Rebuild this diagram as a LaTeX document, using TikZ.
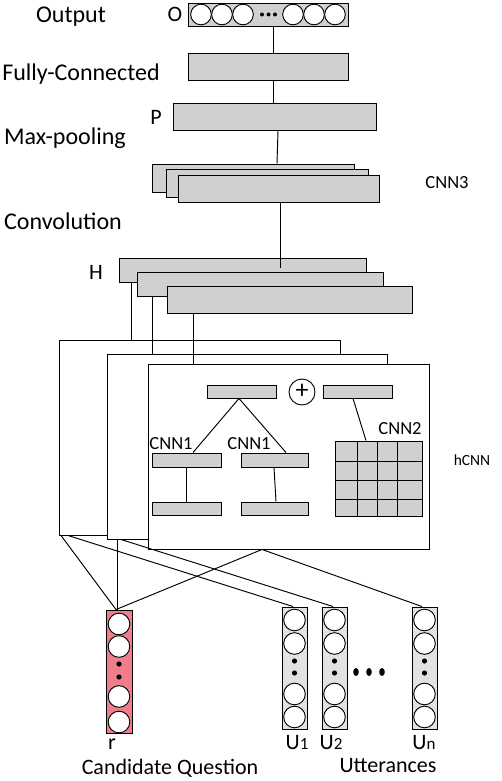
\documentclass[tikz,border=0pt]{standalone}
\usepackage{fontspec}
\setmainfont{Carlito}
\definecolor{barfill}{RGB}{208,208,208}
\definecolor{ufill}{RGB}{226,226,226}
\definecolor{rfill}{RGB}{240,125,140}
\begin{document}
\begin{tikzpicture}[x=1pt,y=-1pt,line width=0.95pt,
  box/.style n args={2}{draw, fill=barfill, inner sep=0pt, minimum width=#1pt, minimum height=#2pt},
  frame/.style n args={2}{draw, fill=white, inner sep=0pt, minimum width=#1pt, minimum height=#2pt},
  big/.style={font=\fontsize{24}{24}\selectfont, inner sep=0pt},
  mid/.style={font=\fontsize{22}{22}\selectfont, inner sep=0pt},
  small/.style={font=\fontsize{18.5}{18.5}\selectfont, inner sep=0pt},
  neuron/.style={draw, fill=white},
  vdot/.style={fill=black}]
\useasboundingbox (0,0) rectangle (502,781);

% ---------- left labels ----------
\node[big] (tOut) at (71,17) {Output};
\node[big] (tFC) at (81,74) {Fully-Connected};
\node[big] (tMP) at (65,138) {Max-pooling};
\node[big] (tConv) at (63,221) {Convolution};

% ---------- output layer ----------
\node[box={160}{23}] (out) at (268,14.5) {};
\foreach \cx in {201,222,243,293,314,335}
  \draw[neuron] (\cx,14.5) circle[radius=10.3pt];
\foreach \cx in {262,268.5,275}
  \fill (\cx,14.5) circle[radius=2pt];
\node[mid] (tO) at (175,14) {O};

% ---------- fully connected / pooling ----------
\node[box={160}{27}] (fc) at (268,66.5) {};
\node[box={203}{27}] (pool) at (274.5,116.5) {};
\node[mid] (tP) at (156,117) {P};

% ---------- CNN3 stack ----------
\node[box={202}{28}] (cv1) at (253,178) {};
\node[box={202}{28}] (cv2) at (267,183) {};
\node[box={201}{27}] (cv3) at (278.5,188.5) {};
\node[small] (tCNN3) at (447,183) {CNN3};

% ---------- H stack ----------
\node[box={247}{24}] (h1) at (242.5,270) {};
\node[box={246}{24}] (h2) at (260,284) {};
\node[box={245}{27}] (h3) at (289.5,299.5) {};
\node[mid] (tH) at (96,272) {H};
\coordinate (hin) at (280,268);

% ---------- vertical connectors top ----------
\draw (out.south -| 273,0) -- (fc.north -| 273,0);
\draw (fc.south -| 273,0) -- (pool.north -| 273,0);
\draw (pool.south -| 278,0) -- (cv1.north -| 277,0);
\draw (cv3.south -| 280,0) -- (hin);

% ---------- hCNN frames ----------
\node[frame={281}{195}] (f1) at (199.5,437.5) {};
\node[frame={280}{185}] (f2) at (247,446.5) {};
\node[frame={281}{185}] (f3) at (288.5,456.5) {};
\draw (h1.south -| 131,0) -- (f1.north -| 131,0);
\draw (h2.south -| 152,0) -- (f2.north -| 152,0);
\draw (h3.south -| 193,0) -- (f3.north -| 193,0);
\node[font=\fontsize{15.5}{15.5}\selectfont, inner sep=0pt] (thCNN) at (472,460) {hCNN};

% inside frame 3
\node[box={69}{13}] (tb1) at (241.5,391.5) {};
\node[draw, circle, fill=white, minimum size=26pt, inner sep=0pt, font=\fontsize{26}{26}\selectfont] (plus) at (302,392) {\raisebox{1pt}{+}};
\node[box={69}{13}] (tb2) at (357.5,391.5) {};
\node[box={69}{14}] (c1) at (186.5,460) {};
\node[box={67}{14}] (c2) at (274.5,460) {};
\node[box={69}{13}] (b1) at (186.5,508.5) {};
\node[box={67}{13}] (b2) at (274.5,508.5) {};
\draw (tb1.south -| 239,0) -- (c1.north -| 193,0);
\draw (tb1.south -| 239,0) -- (c2.north -| 286,0);
\draw (c1.south -| 186,0) -- (b1.north -| 186,0);
\draw (c2.south -| 274,0) -- (b2.north -| 276,0);
\node[small] (tc1) at (171,444) {CNN1};
\node[small] (tc2) at (249,444) {CNN1};
\node[small] (tc3) at (400,429) {CNN2};
\node[box={87}{75}] (g) at (378.5,478.5) {};
\foreach \gx in {357,377,397}
  \draw (g.north -| \gx,0) -- (g.south -| \gx,0);
\foreach \gy in {461,480,499}
  \draw (g.west |- 0,\gy) -- (g.east |- 0,\gy);
\draw (tb2.south -| 353,0) -- (g.north -| 366,0);

% ---------- input vectors ----------
\node[draw, fill=rfill, inner sep=0pt, minimum width=26pt, minimum height=123pt] (r) at (119,671.5) {};
\foreach \cy in {624,646.5,696.5,722}
  \draw[neuron] (119,\cy) circle[radius=10.8pt];
\foreach \cy in {664,677}
  \fill (119,\cy) circle[radius=2.6pt];

\foreach \nm/\ux in {u1/294.5,u2/334.5,un/424.5}{
  \node[draw, fill=ufill, inner sep=0pt, minimum width=25pt, minimum height=122pt] (\nm) at (\ux,668) {};
  \foreach \cy in {620,643.5,694,717}
    \draw[neuron] (\ux,\cy) circle[radius=10.8pt];
  \foreach \cy in {661,673}
    \fill (\ux,\cy) circle[radius=2.6pt];
}
\foreach \dx in {356,369,382}
  \fill (\dx,672) ellipse[x radius=2.8pt, y radius=4pt];

% ---------- bottom connectors ----------
\draw (f1.south -| 61,0) -- (r.north -| 116,0);
\draw (f1.south -| 68,0) -- (u1.north -| 293,0);
\draw (f2.south -| 117,0) -- (r.north -| 117,0);
\draw (f2.south -| 121,0) -- (u2.north -| 333,0);
\draw (f3.south -| 262,0) -- (r.north -| 116,0);
\draw (f3.south -| 262,0) -- (un.north -| 422,0);

% ---------- bottom labels ----------
\node[mid] (tr) at (112,744) {r};
\node[mid] (tu1) at (297,743) {U{\fontsize{17}{17}\selectfont 1}};
\node[mid] (tu2) at (331,743) {U{\fontsize{17}{17}\selectfont 2}};
\node[mid] (tun) at (424,743) {U{\fontsize{17}{17}\selectfont n}};
\node[mid] (tCand) at (170,768) {Candidate Question};
\node[mid] (tUtt) at (388,766) {Utterances};
\end{tikzpicture}
\end{document}
